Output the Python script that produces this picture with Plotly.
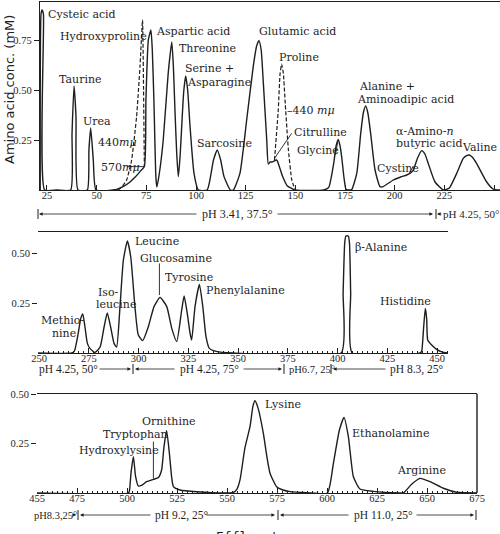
import plotly.graph_objects as go

W, H = 500, 534
INK = "#1e1e1e"
SERIF = "DejaVu Serif"
TICKF = "Liberation Serif"

# ---- panel 1: pH 3.41, 37.5 deg  (570 mu curve, solid)
p1_x = [21.6, 22.0, 22.5, 23.2, 23.8, 30.0, 36.9, 37.6, 38.6, 39.6, 40.6, 45.3, 46.1, 47.0, 48.3, 49.7,
        58.0, 60.1, 63.5, 66.8, 69.5, 71.8, 74.0, 74.8, 76.0, 77.3, 78.0, 78.8, 79.8, 80.3, 81.5, 83.5,
        86.0, 87.8, 88.6, 89.4, 90.3, 91.1, 92.0, 92.8, 93.8, 94.8, 95.8, 97.0, 99.0, 101.2, 105.6, 107.0,
        108.8, 110.7, 112.4, 114.1, 117.3, 118.8, 122.1, 125.5, 128.8, 130.5, 131.7, 132.8, 133.9, 135.6,
        136.4, 137.4, 138.2, 140.6, 141.5, 143.5, 146.0, 150.0, 164.3, 166.8, 169.3, 170.5, 171.6, 172.5,
        173.3, 174.5, 175.5, 177.0, 178.4, 180.9, 182.9, 184.3, 185.4, 186.5, 187.9, 190.1, 192.6, 194.2,
        199.3, 203.0, 206.0, 208.0, 209.4, 211.5, 213.6, 215.2, 216.9, 220.3, 224.5, 227.5, 231.2, 234.5,
        236.2, 237.5, 239.0, 241.2, 246.3, 249.5, 253.0]
p1_y = [0.0, 0.88, 0.90, 0.88, 0.0, 0.0, 0.0, 0.283, 0.52, 0.367, 0.0, 0.0, 0.20, 0.31, 0.15, 0.0,
        0.0, 0.003, 0.018, 0.04, 0.066, 0.092, 0.117, 0.45, 0.75, 0.80, 0.70, 0.45, 0.067, 0.015, 0.08, 0.25,
        0.583, 0.74, 0.62, 0.40, 0.18, 0.067, 0.17, 0.317, 0.49, 0.57, 0.50, 0.317, 0.083, 0.0, 0.0, 0.05,
        0.15, 0.20, 0.15, 0.067, 0.0, 0.0, 0.083, 0.35, 0.617, 0.72, 0.747, 0.70, 0.533, 0.25,
        0.13, 0.14, 0.14, 0.15, 0.13, 0.07, 0.02, 0.0, 0.0, 0.013, 0.133, 0.22, 0.253, 0.22,
        0.167, 0.06, 0.003, 0.0, 0.003, 0.083, 0.283, 0.39, 0.42, 0.385, 0.283, 0.10, 0.017, 0.017,
        0.05, 0.065, 0.075, 0.085, 0.10, 0.16, 0.197, 0.18, 0.133, 0.04, 0.0, 0.01, 0.083, 0.158,
        0.172, 0.175, 0.165, 0.133, 0.04, 0.005, 0.0]

# 440 mu curves (dashed): hydroxyproline and proline
hyp_x = [60.9, 63.0, 65.1, 67.6, 70.1, 71.8, 73.1, 73.6, 74.0]
hyp_y = [0.0, 0.02, 0.05, 0.15, 0.367, 0.617, 0.85, 0.50, 0.117]
pro_x = [139.5, 141.4, 142.3, 143.1, 144.0, 144.8, 146.5, 148.2, 149.9]
pro_y = [0.15, 0.40, 0.58, 0.63, 0.58, 0.45, 0.20, 0.05, 0.0]

# ---- panel 2: pH 4.25 -> 8.3
p2_x = [249.5, 266.5, 267.8, 269.7, 271.0, 272.0, 273.1, 274.3, 275.6, 278.1, 280.7, 282.7, 284.3, 286.0,
        287.7, 289.0, 290.7, 292.4, 294.4, 296.1, 298.2, 299.9, 302.1, 304.9, 307.8, 310.8, 314.2, 316.7,
        319.2, 321.7, 322.9, 324.5, 325.9, 326.7, 328.4, 330.6, 332.3, 333.9, 335.6, 339.0, 347.5, 401.8,
        402.8, 403.6, 404.2, 405.4, 406.0, 406.6, 407.4, 441.5, 442.3, 443.2, 444.1, 444.8, 445.3, 447.3,
        449.8, 452.3, 455.5]
p2_y = [0.0, 0.0, 0.01, 0.098, 0.173, 0.195, 0.13, 0.048, 0.023, 0.003, 0.03, 0.13, 0.20, 0.13,
        0.048, 0.03, 0.232, 0.465, 0.56, 0.48, 0.232, 0.09, 0.062, 0.13, 0.232, 0.278, 0.232, 0.123,
        0.057, 0.215, 0.285, 0.198, 0.098, 0.065, 0.232, 0.343, 0.232, 0.082, 0.023, 0.008, 0.0, 0.0,
        0.30, 0.55, 0.585, 0.585, 0.55, 0.30, 0.0, 0.0, 0.01, 0.12, 0.223, 0.17, 0.065, 0.04,
        0.018, 0.006, 0.0]

# ---- panel 3: pH 8.3 -> 11.0
p3_x = [455.0, 500.7, 501.2, 502.0, 503.2, 504.3, 505.7, 507.5, 509.8, 513.2, 515.7, 517.3, 518.5, 519.8,
        521.2, 522.3, 523.2, 526.5, 535.0, 550.0, 553.2, 555.0, 556.5, 559.0, 561.5, 563.0, 564.0, 565.5,
        568.2, 570.0, 571.5, 574.8, 578.0, 581.5, 590.0, 600.2, 603.2, 606.2, 608.5, 610.7, 613.2, 616.5,
        623.2, 636.5, 638.2, 642.3, 646.5, 651.5, 658.2, 664.8, 675.0]
p3_y = [0.0, 0.0, 0.01, 0.10, 0.183, 0.083, 0.035, 0.04, 0.057, 0.069, 0.078, 0.116, 0.234, 0.315,
        0.20, 0.082, 0.032, 0.015, 0.006, 0.0, 0.003, 0.02, 0.066, 0.23, 0.335, 0.44, 0.466, 0.43,
        0.30, 0.18, 0.10, 0.032, 0.015, 0.007, 0.002, 0.0, 0.15, 0.318, 0.382, 0.284, 0.082, 0.02,
        0.008, 0.0, 0.0, 0.044, 0.074, 0.057, 0.024, 0.004, 0.0]

ticks1 = [25, 50, 75, 100, 125, 150, 175, 200, 225, 250]
ticks2 = [250, 275, 300, 325, 350, 375, 400, 425, 450]
ticks3 = [455, 475, 500, 525, 550, 575, 600, 625, 650, 675]

# peak labels: (text, x, y) in data units of each panel
labels1 = [("Cysteic acid", 24.5, 0.88), ("Hydroxyproline", 30.6, 0.77), ("Taurine", 30.0, 0.555),
           ("Urea", 42.1, 0.345), ("440<i>mμ</i>", 49.7, 0.24), ("570<i>mμ</i>", 51.2, 0.115),
           ("Aspartic acid", 78.8, 0.795), ("Threonine", 90.4, 0.71), ("Serine +", 93.4, 0.61),
           ("Asparagine", 94.4, 0.54), ("Sarcosine", 99.5, 0.235), ("Glutamic acid", 130.7, 0.795),
           ("Proline", 140.8, 0.665), ("–440 <i>mμ</i>", 145.0, 0.40), ("Citrulline", 148.3, 0.29),
           ("Glycine", 149.8, 0.20), ("Alanine +", 181.0, 0.52), ("Aminoadipic acid", 180.0, 0.455),
           ("Cystine", 190.0, 0.11), ("α-Amino-<i>n</i>", 199.6, 0.295), ("butyric acid", 199.6, 0.232),
           ("Valine", 232.8, 0.215)]
labels2 = [("Methio-", 250.0, 0.165), ("nine", 255.5, 0.10), ("Iso-", 278.6, 0.305),
           ("leucine", 277.6, 0.245), ("Leucine", 297.0, 0.555), ("Glucosamine", 299.7, 0.475),
           ("Tyrosine", 312.3, 0.38), ("Phenylalanine", 333.0, 0.315), ("β-Alanine", 407.6, 0.525),
           ("Histidine", 420.4, 0.26)]
labels3 = [("Ornithine", 506.5, 0.36), ("Tryptophan", 487.0, 0.293), ("Hydroxylysine", 475.0, 0.217),
           ("Lysine", 567.9, 0.445), ("Ethanolamine", 611.5, 0.30), ("Arginine", 634.0, 0.116)]

# leader lines: (x0, y0, x1, y1) in data units
leaders1 = [(65.1, 0.117, 73.8, 0.117), (148.1, 0.283, 139.6, 0.16), (170.2, 0.175, 171.4, 0.245),
            (207.4, 0.085, 209.4, 0.12)]
leaders2 = [(310.5, 0.448, 310.5, 0.29)]
leaders3 = [(513.2, 0.26, 513.2, 0.072)]


def pxx(x):
    return x / W


def pxy(y):
    return 1 - y / H


fig = go.Figure()
line = dict(color=INK, width=1.4, shape="spline", smoothing=0.5)
fig.add_trace(go.Scatter(x=p1_x, y=p1_y, mode="lines", line=line, xaxis="x", yaxis="y"))
fig.add_trace(go.Scatter(x=hyp_x, y=hyp_y, mode="lines", xaxis="x", yaxis="y",
                         line=dict(color=INK, width=1.2, dash="4px,2px", shape="spline", smoothing=0.4)))
fig.add_trace(go.Scatter(x=pro_x, y=pro_y, mode="lines", xaxis="x", yaxis="y",
                         line=dict(color=INK, width=1.2, dash="4px,2px", shape="spline", smoothing=0.4)))
fig.add_trace(go.Scatter(x=p2_x, y=p2_y, mode="lines", line=line, xaxis="x2", yaxis="y2"))
fig.add_trace(go.Scatter(x=p3_x, y=p3_y, mode="lines", line=line, xaxis="x3", yaxis="y3"))

for labs, xr, yr in [(labels1, "x", "y"), (labels2, "x2", "y2"), (labels3, "x3", "y3")]:
    for txt, x, y in labs:
        fig.add_annotation(x=x, y=y, xref=xr, yref=yr, text=txt, showarrow=False, xanchor="left",
                           yanchor="middle", font=dict(family=SERIF, size=11, color=INK))

for lds, xr, yr in [(leaders1, "x", "y"), (leaders2, "x2", "y2"), (leaders3, "x3", "y3")]:
    for x0, y0, x1, y1 in lds:
        fig.add_shape(type="line", xref=xr, yref=yr, x0=x0, y0=y0, x1=x1, y1=y1,
                      line=dict(color=INK, width=0.9))


# pH / temperature bands under each panel (pixel positions)
def arrow(x_tail, x_head, yp):
    fig.add_annotation(x=pxx(x_head), y=pxy(yp), xref="paper", yref="paper", ax=x_tail - x_head, ay=0,
                       axref="pixel", ayref="pixel", text="", showarrow=True, arrowhead=2,
                       arrowsize=0.9, arrowwidth=0.8, arrowcolor=INK)


def bar(xp, yp):
    fig.add_shape(type="line", xref="paper", yref="paper", x0=pxx(xp), x1=pxx(xp), y0=pxy(yp - 5),
                  y1=pxy(yp + 5), line=dict(color=INK, width=1))


def ph(txt, xp, yp, size=11.5):
    fig.add_annotation(x=pxx(xp), y=pxy(yp), xref="paper", yref="paper", text=txt, showarrow=False,
                       xanchor="left", yanchor="middle", font=dict(family=TICKF, size=size, color=INK))


bar(38, 214); arrow(198, 39, 214); ph("pH 3.41, 37.5°", 200, 214, 12)
arrow(276, 433, 214); bar(436, 214); arrow(443, 437, 214); ph("pH 4.25, 50°", 441, 214, 11)

ph("pH 4.25, 50°", 37, 369); arrow(98, 131, 369); bar(133, 369); arrow(176, 135, 369)
ph("pH 4.25, 75°", 178, 369); arrow(242, 282, 369); bar(284, 369); ph("pH6.7, 25°", 287, 369, 10.5)
bar(331, 369); arrow(387, 333, 369); ph("pH 8.3, 25°", 388, 369)

ph("pH8.3,25°", 32, 515, 10.5); arrow(72, 76, 515); bar(78, 515); arrow(152, 80, 515)
ph("pH 9.2, 25°", 153, 515); arrow(205, 275, 515); bar(278, 515); arrow(350, 280, 515)
ph("pH 11.0, 25°", 352, 515); arrow(415, 474, 515); bar(476, 515)

# right frame of the bottom panel
fig.add_shape(type="line", xref="x3 domain", yref="y3 domain", x0=1, x1=1, y0=0, y1=1,
              line=dict(color=INK, width=1.4))

fig.add_annotation(x=pxx(10), y=pxy(90), xref="paper", yref="paper", text="Amino acid conc. (mM)",
                   textangle=-90, xanchor="center", yanchor="middle", showarrow=False,
                   font=dict(family="DejaVu Sans", size=13, color=INK))
fig.add_annotation(x=pxx(263), y=pxy(527), xref="paper", yref="paper", text="Effluent, cc",
                   showarrow=False, xanchor="center", yanchor="top",
                   font=dict(family="DejaVu Sans Mono", size=13, color=INK))

tickfont = dict(family=TICKF, size=10.5, color=INK)
xcommon = dict(showline=True, linecolor=INK, linewidth=1.4, mirror=True, ticks="inside", ticklen=5,
               tickcolor=INK, showgrid=False, zeroline=False, tickfont=tickfont, tickmode="array",
               automargin=False, ticklabelstandoff=-5)
ycommon = dict(ticks="outside", ticklen=5, tickcolor=INK, showgrid=False, zeroline=False,
               tickfont=tickfont, tickmode="array", automargin=False)

fig.update_layout(
    template="none",
    width=W, height=H, margin=dict(l=0, r=0, t=0, b=0, autoexpand=False), showlegend=False,
    paper_bgcolor="white", plot_bgcolor="white",
    xaxis=dict(domain=[40 / W, 1.0], range=[21.48, 253.0], anchor="y", tickvals=ticks1, **xcommon),
    yaxis=dict(domain=[pxy(190), pxy(2)], range=[0, 0.94], anchor="x", tickvals=[0.25, 0.5, 0.75],
               ticktext=["0.25", "0.50", "0.75"], showline=True, linecolor=INK, linewidth=1.4, **ycommon),
    xaxis2=dict(domain=[38 / W, 448 / W], range=[249.5, 455.5], anchor="y2", tickvals=ticks2,
                minor=dict(tickmode="linear", tick0=250, dtick=2.5, ticks="inside", ticklen=2, tickcolor=INK),
                **xcommon),
    yaxis2=dict(domain=[pxy(353), pxy(232)], range=[0, 0.605], anchor="x2", tickvals=[0.25, 0.5],
                ticktext=["0.25", "0.50"], showline=False, **ycommon),
    xaxis3=dict(domain=[37 / W, 477 / W], range=[455, 675], anchor="y3", tickvals=ticks3,
                minor=dict(tickmode="linear", tick0=455, dtick=2.5, ticks="inside", ticklen=2, tickcolor=INK),
                **xcommon),
    yaxis3=dict(domain=[pxy(493), pxy(394)], range=[0, 0.5], anchor="x3", tickvals=[0.25, 0.5],
                ticktext=["0.25", "0.50"], showline=False, **ycommon),
)

# the page's default body margin would push the 500x534 figure off the window
fig.write_html("out.html", config={"displayModeBar": False},
               post_script="document.body.style.margin='0px';")
